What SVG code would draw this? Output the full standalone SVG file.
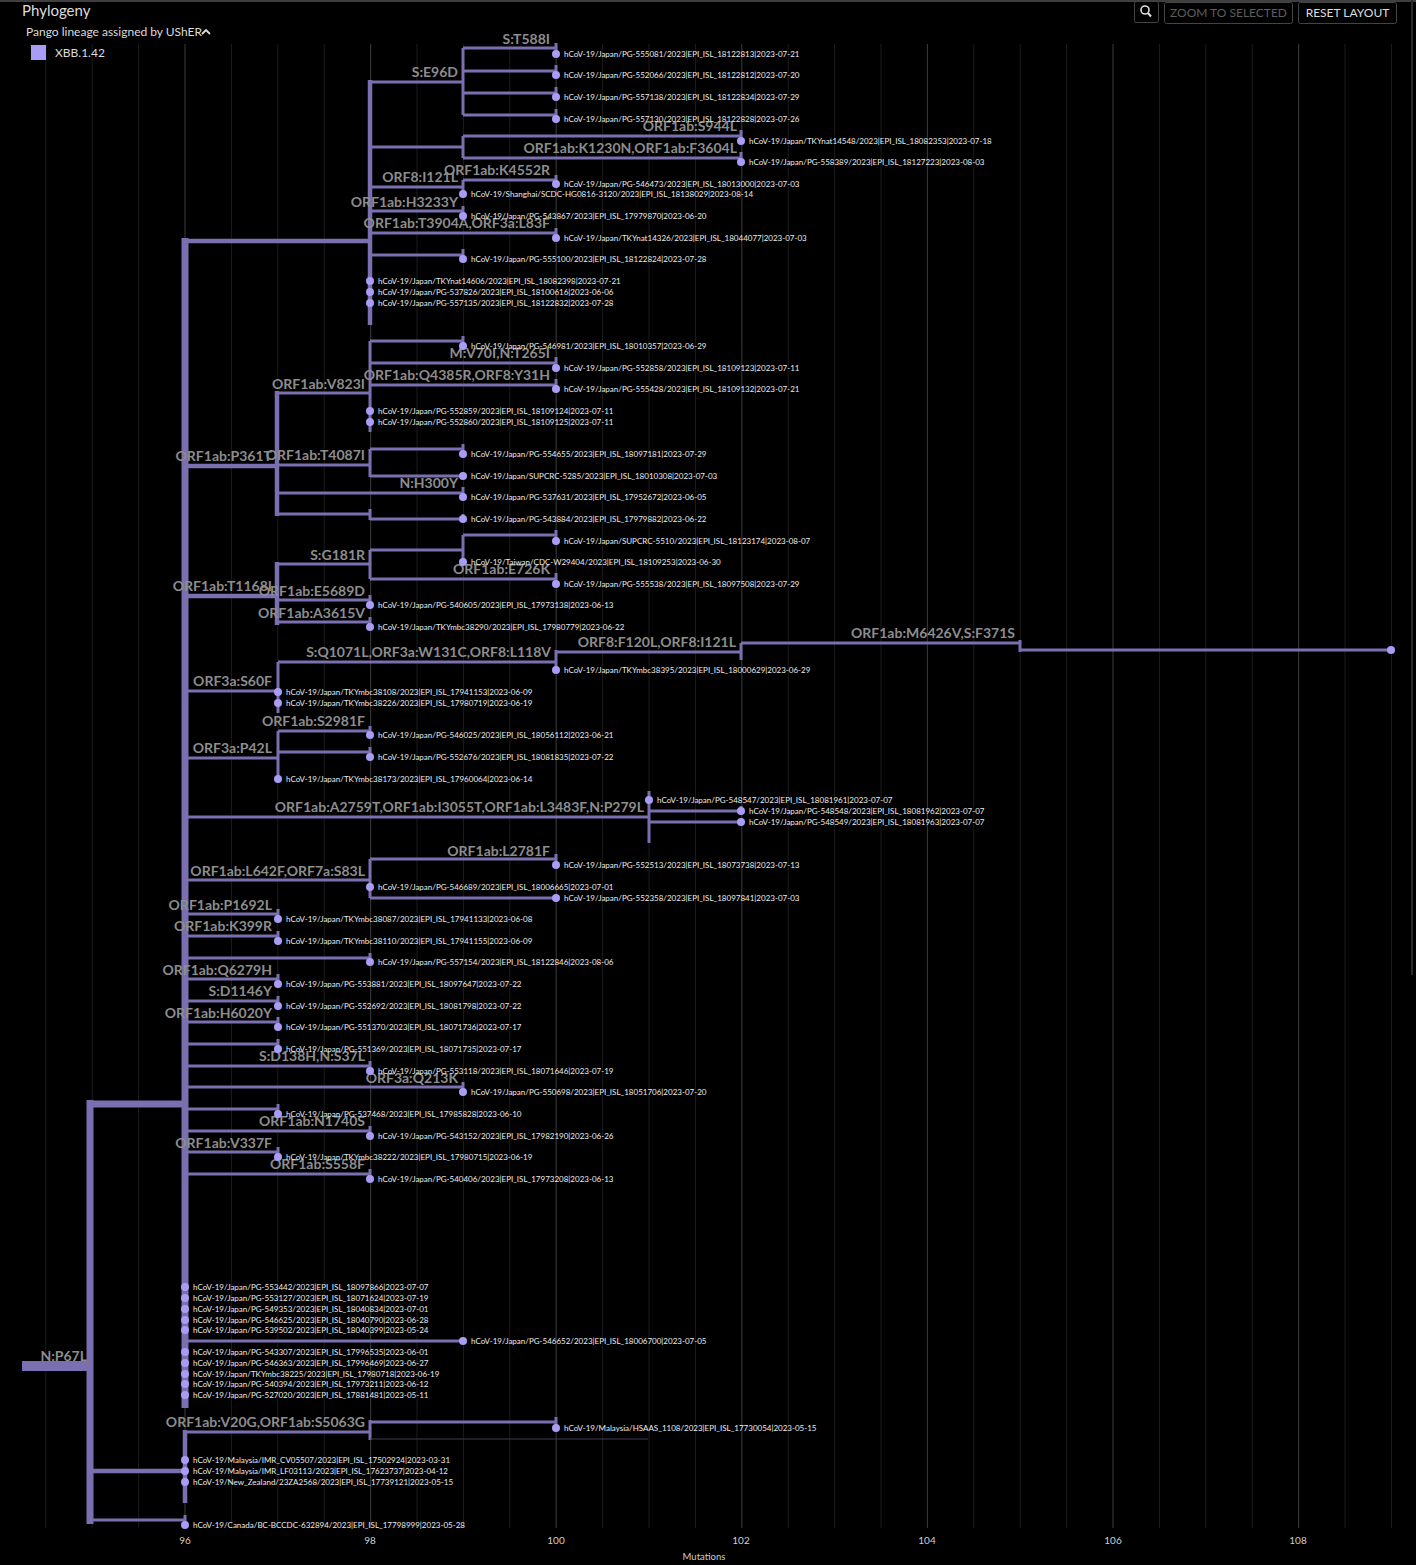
<svg xmlns="http://www.w3.org/2000/svg" width="1416" height="1565" viewBox="0 0 1416 1565">
<style>
.bg{fill:#000}
.grid{stroke:#1c1c1c;stroke-width:1;fill:none}
.major{stroke:#333;stroke-width:1.2;fill:none}
.br{stroke:#7a6fb0;stroke-width:3;fill:none;stroke-linecap:butt}
.br4{stroke:#7a6fb0;stroke-width:4.5;fill:none}
.br7{stroke:#7a6fb0;stroke-width:7;fill:none}
.br10{stroke:#7a6fb0;stroke-width:10;fill:none}
.faint{stroke:#3e3a58;stroke-width:1;fill:none}
.dot{fill:#a99cf5}
.leaf{font-family:Lato,"Noto Sans",sans-serif;font-size:8px;fill:#ececec}
.mut{font-family:Lato,"Noto Sans",sans-serif;font-size:14px;font-weight:bold;fill:#8d8d8d;text-anchor:end}
.ui{font-family:Lato,"Noto Sans",sans-serif;fill:#dcdcdc}
.tick{font-family:Lato,"Noto Sans",sans-serif;font-size:10px;fill:#cfcfcf;text-anchor:middle}
.btn{fill:#000;stroke:#444;stroke-width:1}
</style>
<rect class="bg" x="0" y="0" width="1416" height="1565"/>
<line x1="0" y1="1" x2="1416" y2="1" stroke="#555" stroke-width="1.5"/>
<line x1="1412" y1="0" x2="1412" y2="975" stroke="#2a2a2a" stroke-width="2"/>
<g id="grid">
<path class="grid" d="M45.8 44V1528M92.2 44V1528M138.6 44V1528M231.4 44V1528M277.8 44V1528M324.2 44V1528M417 44V1528M463.4 44V1528M509.8 44V1528M602.6 44V1528M649 44V1528M695.4 44V1528M788.2 44V1528M834.6 44V1528M881 44V1528M973.8 44V1528M1020.2 44V1528M1066.6 44V1528M1159.4 44V1528M1205.8 44V1528M1252.2 44V1528M1345 44V1528M1391.4 44V1528"/>
<path class="major" d="M185 44V1528M370.6 44V1528M556.2 44V1528M741.8 44V1528M927.4 44V1528M1113 44V1528M1298.6 44V1528"/>
</g>
<g id="axis">
<text class="tick" x="185" y="1544">96</text>
<text class="tick" x="370" y="1544">98</text>
<text class="tick" x="556" y="1544">100</text>
<text class="tick" x="741" y="1544">102</text>
<text class="tick" x="927" y="1544">104</text>
<text class="tick" x="1113" y="1544">106</text>
<text class="tick" x="1298" y="1544">108</text>
<text class="tick" x="704" y="1560" style="font-size:9.5px">Mutations</text>
</g>
<g id="header">
<text class="ui" x="22" y="16" style="font-size:15px">Phylogeny</text>
<text class="ui" x="26" y="36" style="font-size:12px">Pango lineage assigned by UShER</text>
<path d="M202 34l4-4 4 4" stroke="#dcdcdc" stroke-width="1.8" fill="none"/>
<rect x="31" y="45" width="15" height="15" fill="#a99cf5"/>
<text class="ui" x="55" y="57" style="font-size:12px">XBB.1.42</text>
<rect class="btn" x="1134.5" y="1.5" width="24" height="21" rx="2"/>
<circle cx="1145" cy="10" r="4" fill="none" stroke="#ddd" stroke-width="1.6"/>
<line x1="1148" y1="13" x2="1151" y2="16.5" stroke="#ddd" stroke-width="2"/>
<rect class="btn" x="1164.5" y="2.5" width="128" height="21" rx="2"/>
<text x="1228.5" y="17" style="font-family:Lato,sans-serif;font-size:12px;fill:#5e5e5e;text-anchor:middle">ZOOM TO SELECTED</text>
<rect class="btn" x="1298.5" y="2.5" width="98" height="21" rx="2"/>
<text x="1347.5" y="17" style="font-family:Lato,sans-serif;font-size:12px;fill:#dcdcdc;text-anchor:middle">RESET LAYOUT</text>
</g>
<g id="connectors">
<path class="br10" d="M22 1366H92"/>
<path class="br7" d="M90 1100V1524M88 1104H185M185 238V1408"/>
<path class="br4" d="M90 1471H185M185 1430V1503M185 241H370M370 80V325"/>
<path class="br" d="M90 1520H185M185 1515V1525"/>
<path class="br" d="M370 82H463M463 48V115M463 48H556M556 43V54M463 71H556M556 65V75M463 93H556M556 87V97M463 115H556M556 109V119
M370 147H463M463 136V158M463 136H741M741 130V141M463 158H741M741 152V162
M370 187H463M463 180V197M463 180H556M556 175V184
M370 211H463M463 206V216M370 233H556M556 228V238M370 255H463M463 249V259"/>
<path class="br4" d="M185 466H277M277 391V516"/>
<path class="br" d="M277 393H370M370 341V432M370 341H463M463 336V346M370 363H556M556 357V368M370 385H556M556 379V389
M277 465H370M370 449V477M370 449H463M463 444V454M370 476H463
M277 493H463M463 487V497M277 514H370M370 509V520M370 519H463M463 514V519"/>
<path class="br4" d="M185 596H277M277 562V625"/>
<path class="br" d="M277 564H370M370 550V579M370 550H463M463 535V562M463 535H556M556 530V541M370 579H556M556 573V584
M277 600H370M370 595V605M277 622H370M370 617V627"/>
<path class="br" d="M185 691H278M278 662V713M278 662H556M556 650V672M556 652H741M741 643V660M741 643H1020M1020 640V652M1020 650H1391"/>
<path class="br" d="M185 758H278M278 731V779M278 731H370M370 726V735M278 752H370M370 747V757"/>
<path class="br" d="M185 817H649M649 791V843M649 811H741M741 806V811M649 822H741"/>
<path class="br" d="M185 880H370M370 859V898M370 859H556M556 854V865M370 898H556"/>
<path class="br" d="M185 914H278M278 909V919M185 936H278M278 931V941M185 958H370M370 953V962M185 979H278M278 974V984M185 1001H278M278 996V1006M185 1022H278M278 1017V1027M185 1044H278M278 1039V1049M185 1066H370M370 1061V1071M185 1087H463M463 1082V1092M185 1109H278M278 1104V1114M185 1131H370M370 1126V1136M185 1152H278M278 1147V1157M185 1174H370M370 1169V1179M185 1341H463"/>
<path class="br" d="M185 1432H370M370 1420V1440M370 1422H556M556 1417V1428"/>
<path class="faint" d="M370 1439H648"/>
</g>
<g id="mutations">
<text class="mut" x="550" y="44">S:T588I</text>
<text class="mut" x="458" y="77">S:E96D</text>
<text class="mut" x="737" y="131">ORF1ab:S944L</text>
<text class="mut" x="737" y="153">ORF1ab:K1230N,ORF1ab:F3604L</text>
<text class="mut" x="550" y="175">ORF1ab:K4552R</text>
<text class="mut" x="458" y="182">ORF8:I121L</text>
<text class="mut" x="458" y="207">ORF1ab:H3233Y</text>
<text class="mut" x="550" y="228">ORF1ab:T3904A,ORF3a:L83F</text>
<text class="mut" x="550" y="358">M:V70I,N:T265I</text>
<text class="mut" x="550" y="380">ORF1ab:Q4385R,ORF8:Y31H</text>
<text class="mut" x="365" y="389">ORF1ab:V823I</text>
<text class="mut" x="272" y="461">ORF1ab:P361T</text>
<text class="mut" x="365" y="460">ORF1ab:T4087I</text>
<text class="mut" x="458" y="488">N:H300Y</text>
<text class="mut" x="365" y="560">S:G181R</text>
<text class="mut" x="550" y="574">ORF1ab:E726K</text>
<text class="mut" x="272" y="591">ORF1ab:T1168I</text>
<text class="mut" x="365" y="596">ORF1ab:E5689D</text>
<text class="mut" x="365" y="618">ORF1ab:A3615V</text>
<text class="mut" x="1015" y="638">ORF1ab:M6426V,S:F371S</text>
<text class="mut" x="736" y="647">ORF8:F120L,ORF8:I121L</text>
<text class="mut" x="551" y="657">S:Q1071L,ORF3a:W131C,ORF8:L118V</text>
<text class="mut" x="272" y="686">ORF3a:S60F</text>
<text class="mut" x="365" y="726">ORF1ab:S2981F</text>
<text class="mut" x="272" y="753">ORF3a:P42L</text>
<text class="mut" x="644" y="812">ORF1ab:A2759T,ORF1ab:I3055T,ORF1ab:L3483F,N:P279L</text>
<text class="mut" x="550" y="856">ORF1ab:L2781F</text>
<text class="mut" x="365" y="876">ORF1ab:L642F,ORF7a:S83L</text>
<text class="mut" x="272" y="910">ORF1ab:P1692L</text>
<text class="mut" x="272" y="931">ORF1ab:K399R</text>
<text class="mut" x="272" y="975">ORF1ab:Q6279H</text>
<text class="mut" x="272" y="996">S:D1146Y</text>
<text class="mut" x="272" y="1018">ORF1ab:H6020Y</text>
<text class="mut" x="365" y="1061">S:D138H,N:S37L</text>
<text class="mut" x="458" y="1083">ORF3a:Q213K</text>
<text class="mut" x="365" y="1126">ORF1ab:N1740S</text>
<text class="mut" x="272" y="1148">ORF1ab:V337F</text>
<text class="mut" x="365" y="1169">ORF1ab:S558F</text>
<text class="mut" x="365" y="1427">ORF1ab:V20G,ORF1ab:S5063G</text>
<text class="mut" x="87" y="1361">N:P67L</text>
</g>
<g id="leaves">
<g id="l1"><circle class="dot" cx="556" cy="54" r="4"/><text class="leaf" x="564" y="57">hCoV-19/Japan/PG-555081/2023|EPI_ISL_18122813|2023-07-21</text></g>
<g id="l2"><circle class="dot" cx="556" cy="75" r="4"/><text class="leaf" x="564" y="78">hCoV-19/Japan/PG-552066/2023|EPI_ISL_18122812|2023-07-20</text></g>
<g id="l3"><circle class="dot" cx="556" cy="97" r="4"/><text class="leaf" x="564" y="100">hCoV-19/Japan/PG-557138/2023|EPI_ISL_18122834|2023-07-29</text></g>
<g id="l4"><circle class="dot" cx="556" cy="119" r="4"/><text class="leaf" x="564" y="122">hCoV-19/Japan/PG-557130/2023|EPI_ISL_18122828|2023-07-26</text></g>
<g id="l5"><circle class="dot" cx="741" cy="141" r="4"/><text class="leaf" x="749" y="144">hCoV-19/Japan/TKYnat14548/2023|EPI_ISL_18082353|2023-07-18</text></g>
<g id="l6"><circle class="dot" cx="741" cy="162" r="4"/><text class="leaf" x="749" y="165">hCoV-19/Japan/PG-558389/2023|EPI_ISL_18127223|2023-08-03</text></g>
<g id="l7"><circle class="dot" cx="556" cy="184" r="4"/><text class="leaf" x="564" y="187">hCoV-19/Japan/PG-546473/2023|EPI_ISL_18013000|2023-07-03</text></g>
<g id="l8"><circle class="dot" cx="463" cy="194" r="4"/><text class="leaf" x="471" y="197">hCoV-19/Shanghai/SCDC-HG0816-3120/2023|EPI_ISL_18138029|2023-08-14</text></g>
<g id="l9"><circle class="dot" cx="463" cy="216" r="4"/><text class="leaf" x="471" y="219">hCoV-19/Japan/PG-543867/2023|EPI_ISL_17979870|2023-06-20</text></g>
<g id="l10"><circle class="dot" cx="556" cy="238" r="4"/><text class="leaf" x="564" y="241">hCoV-19/Japan/TKYnat14326/2023|EPI_ISL_18044077|2023-07-03</text></g>
<g id="l11"><circle class="dot" cx="463" cy="259" r="4"/><text class="leaf" x="471" y="262">hCoV-19/Japan/PG-555100/2023|EPI_ISL_18122824|2023-07-28</text></g>
<g id="l12"><circle class="dot" cx="370" cy="281" r="4"/><text class="leaf" x="378" y="284">hCoV-19/Japan/TKYnat14606/2023|EPI_ISL_18082398|2023-07-21</text></g>
<g id="l13"><circle class="dot" cx="370" cy="292" r="4"/><text class="leaf" x="378" y="295">hCoV-19/Japan/PG-537826/2023|EPI_ISL_18100616|2023-06-06</text></g>
<g id="l14"><circle class="dot" cx="370" cy="303" r="4"/><text class="leaf" x="378" y="306">hCoV-19/Japan/PG-557135/2023|EPI_ISL_18122832|2023-07-28</text></g>
<g id="l15"><circle class="dot" cx="463" cy="346" r="4"/><text class="leaf" x="471" y="349">hCoV-19/Japan/PG-546981/2023|EPI_ISL_18010357|2023-06-29</text></g>
<g id="l16"><circle class="dot" cx="556" cy="368" r="4"/><text class="leaf" x="564" y="371">hCoV-19/Japan/PG-552858/2023|EPI_ISL_18109123|2023-07-11</text></g>
<g id="l17"><circle class="dot" cx="556" cy="389" r="4"/><text class="leaf" x="564" y="392">hCoV-19/Japan/PG-555428/2023|EPI_ISL_18109132|2023-07-21</text></g>
<g id="l18"><circle class="dot" cx="370" cy="411" r="4"/><text class="leaf" x="378" y="414">hCoV-19/Japan/PG-552859/2023|EPI_ISL_18109124|2023-07-11</text></g>
<g id="l19"><circle class="dot" cx="370" cy="422" r="4"/><text class="leaf" x="378" y="425">hCoV-19/Japan/PG-552860/2023|EPI_ISL_18109125|2023-07-11</text></g>
<g id="l20"><circle class="dot" cx="463" cy="454" r="4"/><text class="leaf" x="471" y="457">hCoV-19/Japan/PG-554655/2023|EPI_ISL_18097181|2023-07-29</text></g>
<g id="l21"><circle class="dot" cx="463" cy="476" r="4"/><text class="leaf" x="471" y="479">hCoV-19/Japan/SUPCRC-5285/2023|EPI_ISL_18010308|2023-07-03</text></g>
<g id="l22"><circle class="dot" cx="463" cy="497" r="4"/><text class="leaf" x="471" y="500">hCoV-19/Japan/PG-537631/2023|EPI_ISL_17952672|2023-06-05</text></g>
<g id="l23"><circle class="dot" cx="463" cy="519" r="4"/><text class="leaf" x="471" y="522">hCoV-19/Japan/PG-543884/2023|EPI_ISL_17979882|2023-06-22</text></g>
<g id="l24"><circle class="dot" cx="556" cy="541" r="4"/><text class="leaf" x="564" y="544">hCoV-19/Japan/SUPCRC-5510/2023|EPI_ISL_18123174|2023-08-07</text></g>
<g id="l25"><circle class="dot" cx="463" cy="562" r="4"/><text class="leaf" x="471" y="565">hCoV-19/Taiwan/CDC-W29404/2023|EPI_ISL_18109253|2023-06-30</text></g>
<g id="l26"><circle class="dot" cx="556" cy="584" r="4"/><text class="leaf" x="564" y="587">hCoV-19/Japan/PG-555538/2023|EPI_ISL_18097508|2023-07-29</text></g>
<g id="l27"><circle class="dot" cx="370" cy="605" r="4"/><text class="leaf" x="378" y="608">hCoV-19/Japan/PG-540605/2023|EPI_ISL_17973138|2023-06-13</text></g>
<g id="l28"><circle class="dot" cx="370" cy="627" r="4"/><text class="leaf" x="378" y="630">hCoV-19/Japan/TKYmbc38290/2023|EPI_ISL_17980779|2023-06-22</text></g>
<g id="l29"><circle class="dot" cx="1391" cy="650" r="4"/></g>
<g id="l30"><circle class="dot" cx="556" cy="670" r="4"/><text class="leaf" x="564" y="673">hCoV-19/Japan/TKYmbc38395/2023|EPI_ISL_18000629|2023-06-29</text></g>
<g id="l31"><circle class="dot" cx="278" cy="692" r="4"/><text class="leaf" x="286" y="695">hCoV-19/Japan/TKYmbc38108/2023|EPI_ISL_17941153|2023-06-09</text></g>
<g id="l32"><circle class="dot" cx="278" cy="703" r="4"/><text class="leaf" x="286" y="706">hCoV-19/Japan/TKYmbc38226/2023|EPI_ISL_17980719|2023-06-19</text></g>
<g id="l33"><circle class="dot" cx="370" cy="735" r="4"/><text class="leaf" x="378" y="738">hCoV-19/Japan/PG-546025/2023|EPI_ISL_18056112|2023-06-21</text></g>
<g id="l34"><circle class="dot" cx="370" cy="757" r="4"/><text class="leaf" x="378" y="760">hCoV-19/Japan/PG-552676/2023|EPI_ISL_18081835|2023-07-22</text></g>
<g id="l35"><circle class="dot" cx="278" cy="779" r="4"/><text class="leaf" x="286" y="782">hCoV-19/Japan/TKYmbc38173/2023|EPI_ISL_17960064|2023-06-14</text></g>
<g id="l36"><circle class="dot" cx="649" cy="800" r="4"/><text class="leaf" x="657" y="803">hCoV-19/Japan/PG-548547/2023|EPI_ISL_18081961|2023-07-07</text></g>
<g id="l37"><circle class="dot" cx="741" cy="811" r="4"/><text class="leaf" x="749" y="814">hCoV-19/Japan/PG-548548/2023|EPI_ISL_18081962|2023-07-07</text></g>
<g id="l38"><circle class="dot" cx="741" cy="822" r="4"/><text class="leaf" x="749" y="825">hCoV-19/Japan/PG-548549/2023|EPI_ISL_18081963|2023-07-07</text></g>
<g id="l39"><circle class="dot" cx="556" cy="865" r="4"/><text class="leaf" x="564" y="868">hCoV-19/Japan/PG-552513/2023|EPI_ISL_18073738|2023-07-13</text></g>
<g id="l40"><circle class="dot" cx="370" cy="887" r="4"/><text class="leaf" x="378" y="890">hCoV-19/Japan/PG-546689/2023|EPI_ISL_18006665|2023-07-01</text></g>
<g id="l41"><circle class="dot" cx="556" cy="898" r="4"/><text class="leaf" x="564" y="901">hCoV-19/Japan/PG-552358/2023|EPI_ISL_18097841|2023-07-03</text></g>
<g id="l42"><circle class="dot" cx="278" cy="919" r="4"/><text class="leaf" x="286" y="922">hCoV-19/Japan/TKYmbc38087/2023|EPI_ISL_17941133|2023-06-08</text></g>
<g id="l43"><circle class="dot" cx="278" cy="941" r="4"/><text class="leaf" x="286" y="944">hCoV-19/Japan/TKYmbc38110/2023|EPI_ISL_17941155|2023-06-09</text></g>
<g id="l44"><circle class="dot" cx="370" cy="962" r="4"/><text class="leaf" x="378" y="965">hCoV-19/Japan/PG-557154/2023|EPI_ISL_18122846|2023-08-06</text></g>
<g id="l45"><circle class="dot" cx="278" cy="984" r="4"/><text class="leaf" x="286" y="987">hCoV-19/Japan/PG-553881/2023|EPI_ISL_18097647|2023-07-22</text></g>
<g id="l46"><circle class="dot" cx="278" cy="1006" r="4"/><text class="leaf" x="286" y="1009">hCoV-19/Japan/PG-552692/2023|EPI_ISL_18081798|2023-07-22</text></g>
<g id="l47"><circle class="dot" cx="278" cy="1027" r="4"/><text class="leaf" x="286" y="1030">hCoV-19/Japan/PG-551370/2023|EPI_ISL_18071736|2023-07-17</text></g>
<g id="l48"><circle class="dot" cx="278" cy="1049" r="4"/><text class="leaf" x="286" y="1052">hCoV-19/Japan/PG-551369/2023|EPI_ISL_18071735|2023-07-17</text></g>
<g id="l49"><circle class="dot" cx="370" cy="1071" r="4"/><text class="leaf" x="378" y="1074">hCoV-19/Japan/PG-553118/2023|EPI_ISL_18071646|2023-07-19</text></g>
<g id="l50"><circle class="dot" cx="463" cy="1092" r="4"/><text class="leaf" x="471" y="1095">hCoV-19/Japan/PG-550698/2023|EPI_ISL_18051706|2023-07-20</text></g>
<g id="l51"><circle class="dot" cx="278" cy="1114" r="4"/><text class="leaf" x="286" y="1117">hCoV-19/Japan/PG-537468/2023|EPI_ISL_17985828|2023-06-10</text></g>
<g id="l52"><circle class="dot" cx="370" cy="1136" r="4"/><text class="leaf" x="378" y="1139">hCoV-19/Japan/PG-543152/2023|EPI_ISL_17982190|2023-06-26</text></g>
<g id="l53"><circle class="dot" cx="278" cy="1157" r="4"/><text class="leaf" x="286" y="1160">hCoV-19/Japan/TKYmbc38222/2023|EPI_ISL_17980715|2023-06-19</text></g>
<g id="l54"><circle class="dot" cx="370" cy="1179" r="4"/><text class="leaf" x="378" y="1182">hCoV-19/Japan/PG-540406/2023|EPI_ISL_17973208|2023-06-13</text></g>
<g id="l55"><circle class="dot" cx="185" cy="1287" r="4"/><text class="leaf" x="193" y="1290">hCoV-19/Japan/PG-553442/2023|EPI_ISL_18097866|2023-07-07</text></g>
<g id="l56"><circle class="dot" cx="185" cy="1298" r="4"/><text class="leaf" x="193" y="1301">hCoV-19/Japan/PG-553127/2023|EPI_ISL_18071624|2023-07-19</text></g>
<g id="l57"><circle class="dot" cx="185" cy="1309" r="4"/><text class="leaf" x="193" y="1312">hCoV-19/Japan/PG-549353/2023|EPI_ISL_18040834|2023-07-01</text></g>
<g id="l58"><circle class="dot" cx="185" cy="1320" r="4"/><text class="leaf" x="193" y="1323">hCoV-19/Japan/PG-546625/2023|EPI_ISL_18040790|2023-06-28</text></g>
<g id="l59"><circle class="dot" cx="185" cy="1330" r="4"/><text class="leaf" x="193" y="1333">hCoV-19/Japan/PG-539502/2023|EPI_ISL_18040399|2023-05-24</text></g>
<g id="l60"><circle class="dot" cx="463" cy="1341" r="4"/><text class="leaf" x="471" y="1344">hCoV-19/Japan/PG-546652/2023|EPI_ISL_18006700|2023-07-05</text></g>
<g id="l61"><circle class="dot" cx="185" cy="1352" r="4"/><text class="leaf" x="193" y="1355">hCoV-19/Japan/PG-543307/2023|EPI_ISL_17996535|2023-06-01</text></g>
<g id="l62"><circle class="dot" cx="185" cy="1363" r="4"/><text class="leaf" x="193" y="1366">hCoV-19/Japan/PG-546363/2023|EPI_ISL_17996469|2023-06-27</text></g>
<g id="l63"><circle class="dot" cx="185" cy="1374" r="4"/><text class="leaf" x="193" y="1377">hCoV-19/Japan/TKYmbc38225/2023|EPI_ISL_17980718|2023-06-19</text></g>
<g id="l64"><circle class="dot" cx="185" cy="1384" r="4"/><text class="leaf" x="193" y="1387">hCoV-19/Japan/PG-540394/2023|EPI_ISL_17973211|2023-06-12</text></g>
<g id="l65"><circle class="dot" cx="185" cy="1395" r="4"/><text class="leaf" x="193" y="1398">hCoV-19/Japan/PG-527020/2023|EPI_ISL_17881481|2023-05-11</text></g>
<g id="l66"><circle class="dot" cx="556" cy="1428" r="4"/><text class="leaf" x="564" y="1431">hCoV-19/Malaysia/HSAAS_1108/2023|EPI_ISL_17730054|2023-05-15</text></g>
<g id="l67"><circle class="dot" cx="185" cy="1460" r="4"/><text class="leaf" x="193" y="1463">hCoV-19/Malaysia/IMR_CV05507/2023|EPI_ISL_17502924|2023-03-31</text></g>
<g id="l68"><circle class="dot" cx="185" cy="1471" r="4"/><text class="leaf" x="193" y="1474">hCoV-19/Malaysia/IMR_LF03113/2023|EPI_ISL_17623737|2023-04-12</text></g>
<g id="l69"><circle class="dot" cx="185" cy="1482" r="4"/><text class="leaf" x="193" y="1485">hCoV-19/New_Zealand/23ZA2568/2023|EPI_ISL_17739121|2023-05-15</text></g>
<g id="l70"><circle class="dot" cx="185" cy="1525" r="4"/><text class="leaf" x="193" y="1528">hCoV-19/Canada/BC-BCCDC-632894/2023|EPI_ISL_17798999|2023-05-28</text></g>
</g>
</svg>
